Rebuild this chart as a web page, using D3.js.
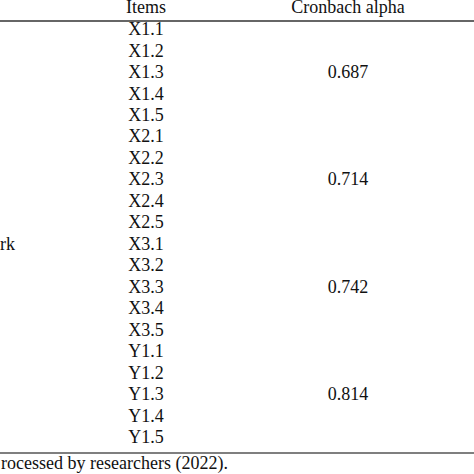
<!DOCTYPE html>
<html><head><meta charset="utf-8">
<script src="https://cdn.jsdelivr.net/npm/d3@7"></script>
<style>body{margin:0;background:#fff}text{font-family:"Liberation Serif",serif;font-size:18px;fill:#111}</style>
</head><body><svg id="c" width="474" height="474"></svg>
<script>
const headers = ["Items", "Cronbach alpha"];
const items = ["X1.1","X1.2","X1.3","X1.4","X1.5","X2.1","X2.2","X2.3","X2.4","X2.5",
               "X3.1","X3.2","X3.3","X3.4","X3.5","Y1.1","Y1.2","Y1.3","Y1.4","Y1.5"];
const alphas = [{row: "X1.3", value: "0.687"}, {row: "X2.3", value: "0.714"},
                {row: "X3.3", value: "0.742"}, {row: "Y1.3", value: "0.814"}];
const sideLabel = {row: "X3.1", text: "rk"};
const footnote = "rocessed by researchers (2022).";

const svg = d3.select("#c");
const y = d3.scalePoint().domain(items).range([31, 439]);
const x = d3.scaleOrdinal().domain(["side", "items", "alpha"]).range([0, 146, 348]);

// en-tête
svg.selectAll(".h").data(headers).enter().append("text")
    .attr("x", (d, i) => i ? x("alpha") : x("items"))
    .attr("y", 9).attr("text-anchor", "middle").attr("dominant-baseline", "middle")
    .text(d => d);
svg.append("line").attr("x1", 0).attr("x2", 474).attr("y1", 21).attr("y2", 21)
    .attr("stroke", "#666").attr("stroke-width", 2);

// items
svg.selectAll(".i").data(items).enter().append("text")
    .attr("x", x("items")).attr("y", d => y(d))
    .attr("text-anchor", "middle").attr("dominant-baseline", "middle").text(d => d);

// alpha
svg.selectAll(".a").data(alphas).enter().append("text")
    .attr("x", x("alpha")).attr("y", d => y(d.row))
    .attr("text-anchor", "middle").attr("dominant-baseline", "middle").text(d => d.value);

svg.append("text").attr("x", x("side")).attr("y", y(sideLabel.row))
    .attr("dominant-baseline", "middle").text(sideLabel.text);

svg.append("line").attr("x1", 0).attr("x2", 474).attr("y1", 453).attr("y2", 453)
    .attr("stroke", "#555").attr("stroke-width", 1.5);
svg.append("text").attr("x", 1).attr("y", 465).attr("dominant-baseline", "middle").text(footnote);
</script></body></html>
